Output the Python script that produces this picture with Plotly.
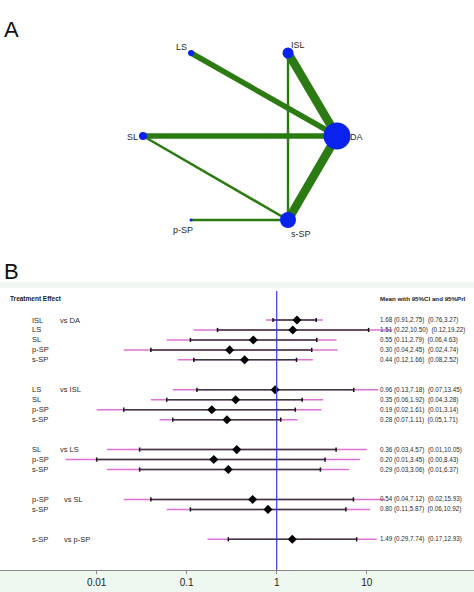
import plotly.graph_objects as go

# ---------------- Panel A: network ----------------
node_names = ["LS", "ISL", "DA", "SL", "s-SP", "p-SP"]
node_x = [191, 288, 337, 143, 288, 191]
node_y = [53, 53, 136, 136, 220, 220]
node_size = [6, 11, 27, 8, 16, 3]
label_x = [181, 297.5, 356.5, 132.5, 301, 183]
label_y = [46.5, 44.5, 137, 136.5, 233.5, 229.5]

edges = [("LS", "DA"), ("ISL", "DA"), ("SL", "DA"), ("s-SP", "DA"),
         ("ISL", "s-SP"), ("SL", "s-SP"), ("p-SP", "s-SP")]
edge_weight = [5.5, 8.5, 5.5, 8.5, 2.4, 2.5, 2.3]

# ---------------- Panel B: forest plot ----------------
treat = ["ISL", "LS", "SL", "p-SP", "s-SP",
         "LS", "SL", "p-SP", "s-SP",
         "SL", "p-SP", "s-SP",
         "p-SP", "s-SP",
         "s-SP"]
comparator = ["DA", "", "", "", "",
              "ISL", "", "", "",
              "LS", "", "",
              "SL", "",
              "p-SP"]
row = [0, 1, 2, 3, 4, 7, 8, 9, 10, 13, 14, 15, 18, 19, 22]
mean = [1.68, 1.51, 0.55, 0.30, 0.44, 0.96, 0.35, 0.19, 0.28, 0.36, 0.20, 0.29, 0.54, 0.80, 1.49]
ci_lo = [0.91, 0.22, 0.11, 0.04, 0.12, 0.13, 0.06, 0.02, 0.07, 0.03, 0.01, 0.03, 0.04, 0.11, 0.29]
ci_hi = [2.75, 10.50, 2.79, 2.45, 1.66, 7.18, 1.92, 1.61, 1.11, 4.57, 3.45, 3.06, 7.12, 5.87, 7.74]
pri_lo = [0.76, 0.12, 0.06, 0.02, 0.08, 0.07, 0.04, 0.01, 0.05, 0.013, 0.0045, 0.013, 0.02, 0.06, 0.17]
pri_hi = [3.27, 19.22, 4.63, 4.74, 2.52, 13.45, 3.28, 3.14, 1.71, 10.05, 8.43, 6.37, 15.93, 10.92, 12.93]
tick_vals = [0.01, 0.1, 1, 10]
tick_text = ["0.01", "0.1", "1", "10"]

W, H = 474, 592
GREEN = "#2c7a12"
BLUE = "#0a22ee"
PINK = "#df72d6"
DARK = "#3a3a3a"
MINT = "#eef8f1"
FONT = "Liberation Sans, Arial, sans-serif"

fig = go.Figure()

# edges
idx = {n: i for i, n in enumerate(node_names)}
for (a, b), w in zip(edges, edge_weight):
    fig.add_trace(go.Scatter(
        x=[node_x[idx[a]], node_x[idx[b]]], y=[node_y[idx[a]], node_y[idx[b]]],
        mode="lines", line=dict(color=GREEN, width=w), hoverinfo="skip",
        showlegend=False, xaxis="x", yaxis="y"))
# nodes
fig.add_trace(go.Scatter(
    x=node_x, y=node_y, mode="markers",
    marker=dict(color=BLUE, size=node_size, opacity=1, line=dict(width=0)),
    showlegend=False, xaxis="x", yaxis="y", hovertext=node_names))
for n, lx, ly in zip(node_names, label_x, label_y):
    fig.add_annotation(x=lx, y=ly, xref="x", yref="y", text=n, showarrow=False,
                       font=dict(family=FONT, size=9, color="#2a2a2a"))

# forest: prediction intervals
for lo, hi, r in zip(pri_lo, pri_hi, row):
    fig.add_trace(go.Scatter(x=[lo, hi], y=[r, r], mode="lines",
                             line=dict(color=PINK, width=1.5), hoverinfo="skip",
                             showlegend=False, xaxis="x2", yaxis="y2"))
# confidence intervals
for lo, hi, r in zip(ci_lo, ci_hi, row):
    fig.add_trace(go.Scatter(x=[lo, hi], y=[r, r], mode="lines+markers",
                             line=dict(color=DARK, width=1.5),
                             marker=dict(symbol="line-ns", size=3,
                                         line=dict(color="#111", width=1.5)),
                             hoverinfo="skip", showlegend=False,
                             xaxis="x2", yaxis="y2"))
# means
fig.add_trace(go.Scatter(x=mean, y=row, mode="markers",
                         marker=dict(symbol="diamond", size=7, color="#000", opacity=1),
                         showlegend=False, xaxis="x2", yaxis="y2"))

# reference line at 1
fig.add_shape(type="line", xref="x2", yref="y2", x0=1, x1=1, y0=-2.9, y1=25.1,
              line=dict(color="#3a3ae0", width=1.2))

# text in forest
for t, c, r, m, a, b, pa, pb in zip(treat, comparator, row, mean, ci_lo, ci_hi, pri_lo, pri_hi):
    fig.add_annotation(x=30 / W, y=r, xref="paper", yref="y2", text=t, showarrow=False,
                       xanchor="left", font=dict(family=FONT, size=7.5, color="#2a2a2a"))
    if c:
        cx = 58 if c in ("DA", "ISL", "LS") else 62
        fig.add_annotation(x=cx / W, y=r, xref="paper", yref="y2", text="vs " + c,
                           showarrow=False, xanchor="left",
                           font=dict(family=FONT, size=7.5, color="#2a2a2a"))
    fig.add_annotation(x=378 / W, y=r, xref="paper", yref="y2",
                       text=f"{m:.2f} ({a:.2f},{b:.2f})  ({pa:.2f},{pb:.2f})",
                       showarrow=False, xanchor="left",
                       font=dict(family=FONT, size=6.3, color="#2a2a2a"))

fig.add_annotation(x=8 / W, y=(H - 298) / H, xref="paper", yref="paper",
                   text="<b>Treatment Effect</b>", showarrow=False, xanchor="left",
                   font=dict(family=FONT, size=6.5, color="#1a1a1a"))
fig.add_annotation(x=378 / W, y=(H - 298) / H, xref="paper", yref="paper",
                   text="<b>Mean with 95%CI and 95%PrI</b>", showarrow=False, xanchor="left",
                   font=dict(family=FONT, size=6.2, color="#1a1a1a"))

# panel letters
fig.add_annotation(x=2 / W, y=(H - 15) / H, xref="paper", yref="paper", text="A",
                   showarrow=False, xanchor="left",
                   font=dict(family=FONT, size=22, color="#111"))
fig.add_annotation(x=2 / W, y=(H - 271) / H, xref="paper", yref="paper", text="B",
                   showarrow=False, xanchor="left",
                   font=dict(family=FONT, size=22, color="#111"))

# mint background strips
fig.add_shape(type="rect", xref="paper", yref="paper", x0=0, x1=1,
              y0=(H - 288) / H, y1=(H - 282) / H, fillcolor=MINT, line_width=0, layer="below")
fig.add_shape(type="rect", xref="paper", yref="paper", x0=0, x1=1,
              y0=0, y1=(H - 570) / H, fillcolor=MINT, line_width=0, layer="below")

fig.update_layout(
    width=W, height=H, margin=dict(l=0, r=0, t=0, b=0),
    paper_bgcolor="white", plot_bgcolor="rgba(0,0,0,0)",
    xaxis=dict(domain=[0, 1], range=[0, W], visible=False, fixedrange=True),
    yaxis=dict(domain=[(H - 260) / H, 1], range=[260, 0], visible=False, fixedrange=True),
    xaxis2=dict(domain=[0, 1], anchor="y2", type="log", range=[-3.074, 2.192],
                showline=True, linecolor="#888", linewidth=1.2, showgrid=False,
                zeroline=False, ticks="outside", ticklen=3, tickcolor="#888",
                tickvals=tick_vals, ticktext=tick_text,
                tickfont=dict(family=FONT, size=10, color="#222")),
    yaxis2=dict(domain=[(H - 570) / H, (H - 288) / H], range=[25.08, -3.21],
                visible=False, fixedrange=True),
)

fig.write_html("out.html")
